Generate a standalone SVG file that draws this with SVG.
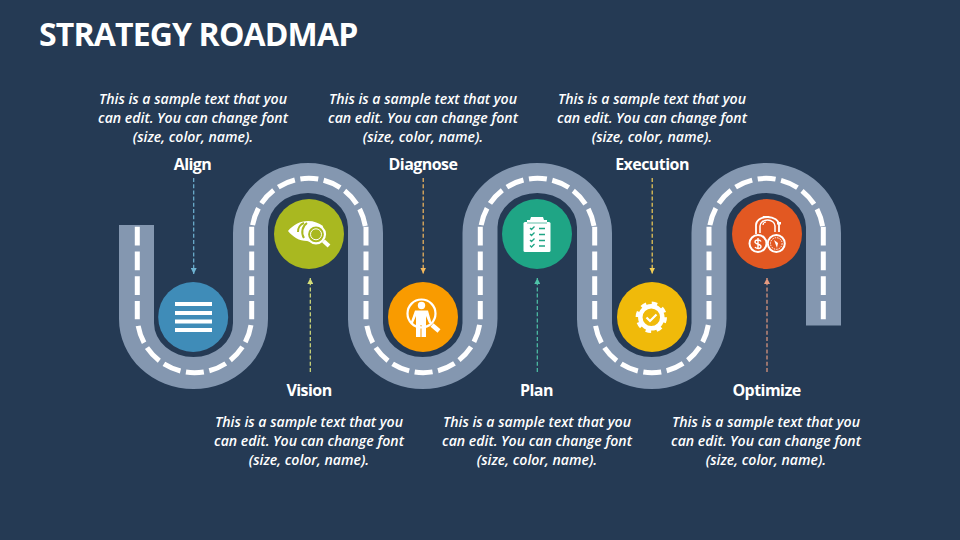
<svg xmlns="http://www.w3.org/2000/svg" width="960" height="540" viewBox="0 0 960 540">
<style>
text{font-family:"Open Sans","Noto Sans","Liberation Sans",sans-serif;fill:#fff}
.t{font-size:32px;font-weight:700;letter-spacing:-.85px}
.h{font-size:16px;font-weight:700;text-anchor:middle;letter-spacing:-.55px}
.b{font-size:14.1px;font-style:italic;font-weight:600;text-anchor:middle}
.w{fill:none;stroke:#fff}
.f{fill:#fff}
.c{fill:none;stroke-width:1.2;stroke-dasharray:4 2.2}
.dv{fill:none;stroke:#fff;stroke-width:5;stroke-dasharray:18.8 6}
.da{fill:none;stroke:#fff;stroke-width:5;stroke-dasharray:0 9.9 18 5.6 18 5.6 18 5.6 18 5.6 18 5.6 18 5.6 18 30}
</style>
<defs>
<marker id="a1" markerWidth="6" markerHeight="6" refX="6" refY="3" orient="auto" markerUnits="userSpaceOnUse"><path d="M0 0L6 3L0 6z" fill="#6FB3D2"/></marker>
<marker id="a2" markerWidth="6" markerHeight="6" refX="6" refY="3" orient="auto" markerUnits="userSpaceOnUse"><path d="M0 0L6 3L0 6z" fill="#D5DE7A"/></marker>
<marker id="a3" markerWidth="6" markerHeight="6" refX="6" refY="3" orient="auto" markerUnits="userSpaceOnUse"><path d="M0 0L6 3L0 6z" fill="#F5B85C"/></marker>
<marker id="a4" markerWidth="6" markerHeight="6" refX="6" refY="3" orient="auto" markerUnits="userSpaceOnUse"><path d="M0 0L6 3L0 6z" fill="#4FC4A8"/></marker>
<marker id="a5" markerWidth="6" markerHeight="6" refX="6" refY="3" orient="auto" markerUnits="userSpaceOnUse"><path d="M0 0L6 3L0 6z" fill="#F2CE55"/></marker>
<marker id="a6" markerWidth="6" markerHeight="6" refX="6" refY="3" orient="auto" markerUnits="userSpaceOnUse"><path d="M0 0L6 3L0 6z" fill="#E59A80"/></marker>
</defs>
<rect width="960" height="540" fill="#253A54"/>
<text class="t" x="39" y="45.500">STRATEGY ROADMAP</text>
<g id="road">
<path fill="#8497B0" d="M119 225V319A74.500 70 0 0 0 268 319V227A40 34 0 0 1 348 227V319A74.750 70 0 0 0 497.500 319V227A39.750 34 0 0 1 577 227V319A74.750 70 0 0 0 726.500 319V227A39.750 34 0 0 1 806 227V325.500H841V233A74.750 70 0 0 0 691.500 233V323A39.750 34 0 0 1 612 323V233A74.750 70 0 0 0 462.500 233V323A39.750 34 0 0 1 383 323V233A75 70 0 0 0 233 233V323A39.500 34 0 0 1 154 323V225Z"/>
<path class="dv" d="M137.300 226.700V319.300M251.700 226.700V319.300M366 226.700V319.300M480.300 226.700V319.300M594.700 226.700V319.300M709 226.700V319.300M823.300 226.700V319.300"/>
<path class="da" d="M137.300 316A57.200 56.700 0 0 0 251.700 316"/>
<path class="da" d="M251.700 235A57.150 56.700 0 0 1 366 235"/>
<path class="da" d="M366 316A57.150 56.700 0 0 0 480.300 316"/>
<path class="da" d="M480.300 235A57.200 56.700 0 0 1 594.700 235"/>
<path class="da" d="M594.700 316A57.150 56.700 0 0 0 709 316"/>
<path class="da" d="M709 235A57.150 56.700 0 0 1 823.300 235"/>
</g>
<g id="connectors">
<path class="c" d="M193.700 178V274" stroke="#6FB3D2" marker-end="url(#a1)"/>
<path class="c" d="M310.300 372V278" stroke="#D5DE7A" marker-end="url(#a2)"/>
<path class="c" d="M423.200 178V273.500" stroke="#F5B85C" marker-end="url(#a3)"/>
<path class="c" d="M537.300 372V278" stroke="#4FC4A8" marker-end="url(#a4)"/>
<path class="c" d="M652.200 178V273.500" stroke="#F2CE55" marker-end="url(#a5)"/>
<path class="c" d="M767 372V278" stroke="#E59A80" marker-end="url(#a6)"/>
</g>
<g id="align">
<circle cx="193.200" cy="317" r="35" fill="#3F8CB8"/>
<path class="f" d="M175 302h37v4h-37zM175 311h37v4h-37zM175 319.500h37v4h-37zM175 328h37v4h-37z"/>
<text class="h" x="192.500" y="170">Align</text>
<text class="b" x="193" y="104">This is a sample text that you</text>
<text class="b" x="193" y="123">can edit. You can change font</text>
<text class="b" x="193" y="142">(size, color, name).</text>
</g>
<g id="vision">
<circle cx="309" cy="234" r="35" fill="#A9B820"/>
<path class="f" d="M288 231C293 225 300 221 308 221C314 221 319 223 323 226L318 244L307 241C299 241 293 237 288 231z"/>
<path d="M298 232a9 9 0 0 1 6-9M304 238a11 11 0 0 1 3-15" fill="none" stroke="#A9B820" stroke-width="2"/>
<circle cx="316" cy="234.300" r="9" fill="#A9B820" stroke="#fff" stroke-width="2.200"/>
<circle cx="316" cy="234.300" r="5.500" class="w" stroke-width="1"/>
<path class="w" stroke-width="4" d="M323.500 241L329 246"/>
<text class="h" x="309" y="396">Vision</text>
<text class="b" x="309" y="427">This is a sample text that you</text>
<text class="b" x="309" y="446">can edit. You can change font</text>
<text class="b" x="309" y="465">(size, color, name).</text>
</g>
<g id="diagnose">
<circle cx="423" cy="317" r="35" fill="#F99B00"/>
<circle cx="421.500" cy="313.500" r="14" class="w" stroke-width="2.200"/>
<circle cx="421.500" cy="305.500" r="3.700" class="f"/>
<path class="f" d="M415 310.500h13l3.500 12.500h-2.500l-3-7v21h-4.500v-12h-1v12h-4.500v-21l-3 7h-2.500z"/>
<path class="w" stroke-width="4.500" d="M432 325L439 331"/>
<text class="h" x="423" y="170">Diagnose</text>
<text class="b" x="423" y="104">This is a sample text that you</text>
<text class="b" x="423" y="123">can edit. You can change font</text>
<text class="b" x="423" y="142">(size, color, name).</text>
</g>
<g id="plan">
<circle cx="537" cy="234" r="35" fill="#1FA585"/>
<path class="f" d="M525 222h24a1.500 1.500 0 0 1 1.500 1.500v27a1.500 1.500 0 0 1-1.500 1.500h-24a1.500 1.500 0 0 1-1.500-1.500v-27a1.500 1.500 0 0 1 1.500-1.500z"/>
<path class="f" d="M531 217h12l1 3h3v2h-20v-2h3z"/>
<path d="M530 228l1.500 1.500 3-3M530 234l1.500 1.500 3-3M530 240l1.500 1.500 3-3M530 245.500l1.500 1.500 3-3M539 228.500h6M539 234.500h6M539 240.500h6M539 246h6" fill="none" stroke="#1FA585" stroke-width="1.300"/>
<path d="M527 223h20" stroke="#1FA585" stroke-width="0.700" fill="none"/>
<text class="h" x="536.500" y="396">Plan</text>
<text class="b" x="537" y="427">This is a sample text that you</text>
<text class="b" x="537" y="446">can edit. You can change font</text>
<text class="b" x="537" y="465">(size, color, name).</text>
</g>
<g id="execution">
<circle cx="652" cy="317" r="35" fill="#F0BA0A"/>
<circle cx="651.300" cy="317.300" r="11" fill="none" stroke="#fff" stroke-width="4.500"/>
<circle cx="651.300" cy="317.300" r="14" fill="none" stroke="#fff" stroke-width="3.400" stroke-dasharray="5.500 5.500"/>
<path class="w" stroke-width="2.200" d="M646.500 317.500l3.500 3.500 6.500-6.500"/>
<text class="h" x="652" y="170">Execution</text>
<text class="b" x="652" y="104">This is a sample text that you</text>
<text class="b" x="652" y="123">can edit. You can change font</text>
<text class="b" x="652" y="142">(size, color, name).</text>
</g>
<g id="optimize">
<circle cx="767" cy="234" r="35" fill="#E25822"/>
<path class="w" stroke-width="1.800" d="M756 234V225A11.500 8 0 0 1 779 225V232"/>
<path class="w" stroke-width="1.500" d="M760 233V226A7.500 6 0 0 1 775 226V232"/>
<path class="f" d="M763 216h6l1 2h-8zM777 222h4v2.500h-4z"/>
<path class="w" stroke-width="1.200" d="M763 225a4 3 0 0 1 3-3"/>
<circle cx="758" cy="243.500" r="8.500" fill="#E25822" stroke="#fff" stroke-width="2"/>
<circle cx="776.300" cy="243.500" r="8.500" fill="#E25822" stroke="#fff" stroke-width="2"/>
<circle cx="776.300" cy="243.500" r="5.800" fill="none" stroke="#fff" stroke-width="1" stroke-dasharray="1.500 1"/>
<path class="f" d="M774 240l4 3-1 5z"/>
<path class="w" stroke-width="1.400" d="M761 241.500c-1-2-6-2-6 .5s6 2 6 4.500-5 2.500-6 .5M758 238v11"/>
<text class="h" x="766.500" y="396">Optimize</text>
<text class="b" x="766" y="427">This is a sample text that you</text>
<text class="b" x="766" y="446">can edit. You can change font</text>
<text class="b" x="766" y="465">(size, color, name).</text>
</g>
</svg>
